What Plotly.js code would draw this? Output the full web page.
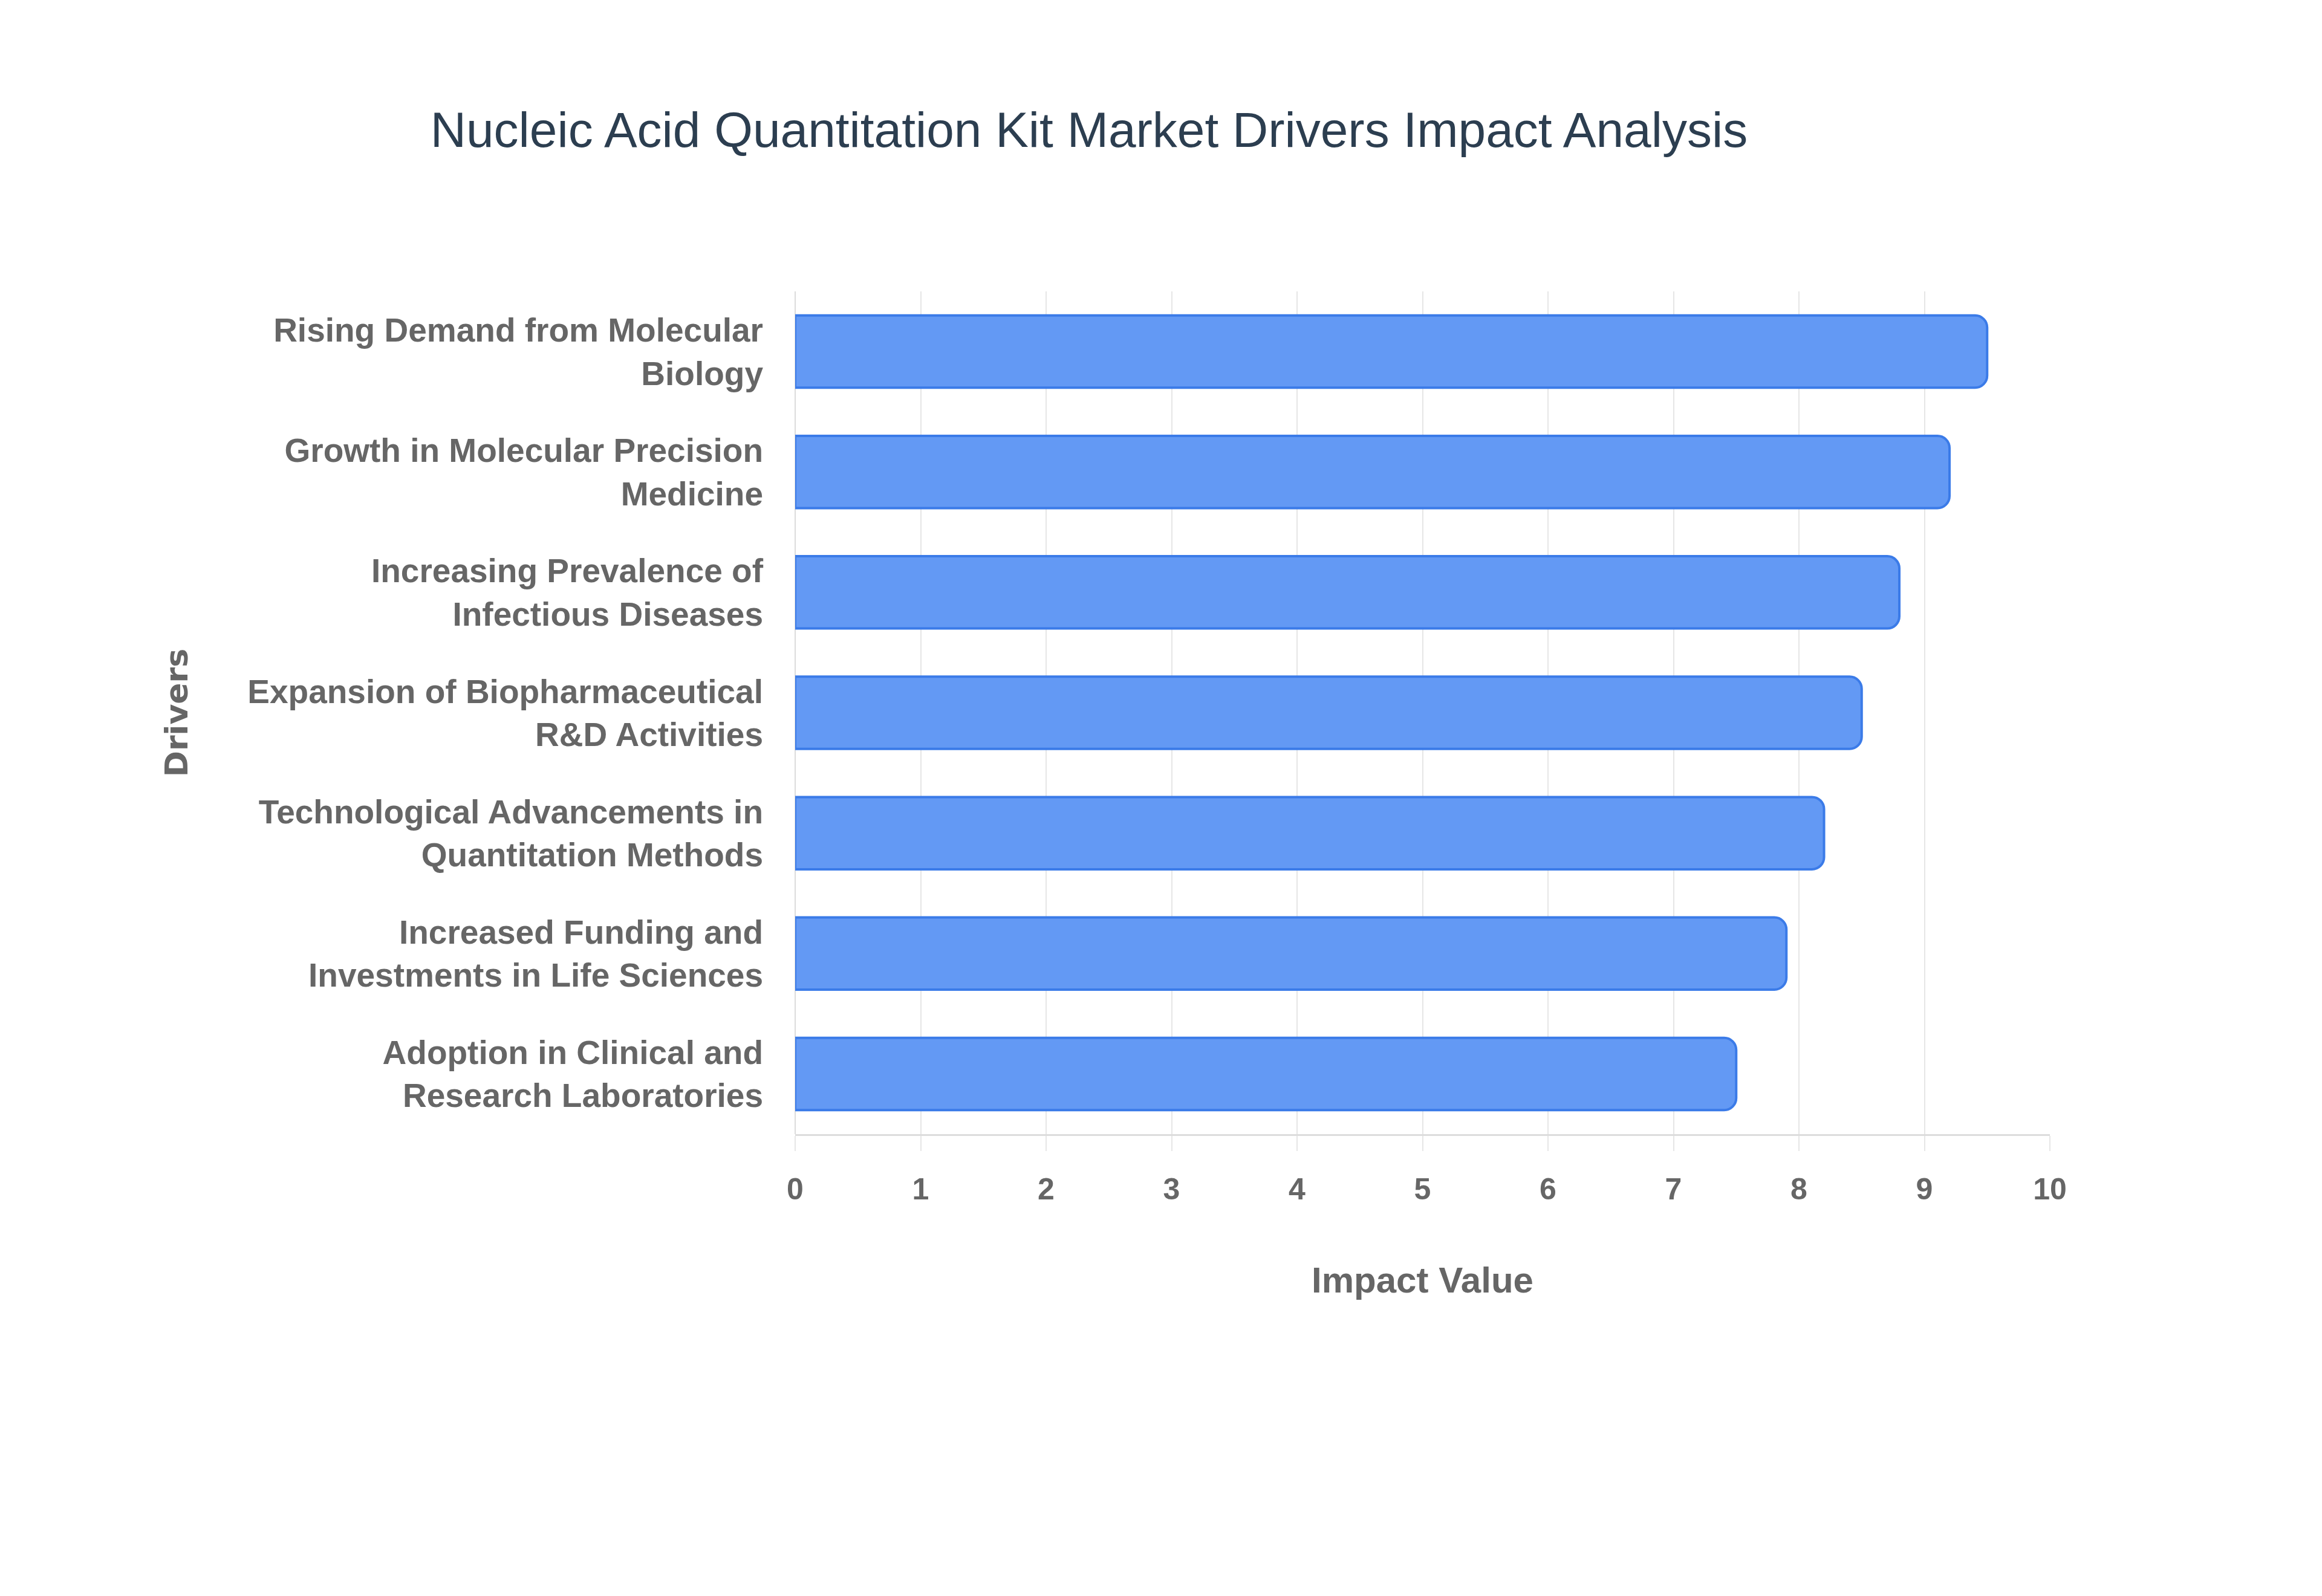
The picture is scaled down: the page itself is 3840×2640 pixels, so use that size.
<!DOCTYPE html>
<html>
<head>
<meta charset="utf-8">
<script src="https://cdn.plot.ly/plotly-3.0.1.min.js"></script>
<style>
  body { margin: 0; background: #fff; }
  #graph { width: 3840px; height: 2640px; }
</style>
</head>
<body>
<div id="graph"></div>
<script>
// drivers, top to bottom as drawn
const drivers = [
    "Rising Demand from Molecular<br>Biology",
    "Growth in Molecular Precision<br>Medicine",
    "Increasing Prevalence of<br>Infectious Diseases",
    "Expansion of Biopharmaceutical<br>R&D Activities",
    "Technological Advancements in<br>Quantitation Methods",
    "Increased Funding and<br>Investments in Life Sciences",
    "Adoption in Clinical and<br>Research Laboratories"
];
const impactValues = [9.5, 9.2, 8.8, 8.5, 8.2, 7.9, 7.5];
const xTicks = [0, 1, 2, 3, 4, 5, 6, 7, 8, 9, 10];

const labelGrey = "#666666";
const gridGrey = "#e6e6e6";

function initPlot() {
    const trace = {
        type: "bar",
        orientation: "h",
        y: drivers,
        x: impactValues,
        width: 0.6,
        marker: {
            color: "#6399f4",
            cornerradius: 20,
            line: { color: "#3b7be8", width: 4 }
        },
        hoverinfo: "x+y"
    };

    const layout = {
        width: 3840,
        height: 2640,
        paper_bgcolor: "#ffffff",
        plot_bgcolor: "#ffffff",
        showlegend: false,
        margin: { l: 1315, r: 450, t: 482, b: 764, autoexpand: false },
        title: {
            text: "Nucleic Acid Quantitation Kit Market Drivers Impact Analysis",
            font: { family: "Liberation Sans, Arial, sans-serif", size: 82, color: "#2c3e50" },
            x: 0.469,
            xanchor: "center",
            y: 0.919,
            yanchor: "middle"
        },
        xaxis: {
            range: [0, 10],
            tickvals: xTicks,
            ticktext: xTicks.map(String),
            showgrid: true,
            gridcolor: gridGrey,
            gridwidth: 2,
            zeroline: true,
            zerolinecolor: "#dcdcdc",
            zerolinewidth: 2,
            showline: true,
            linecolor: "#dcdcdc",
            linewidth: 3,
            ticks: "outside",
            ticklen: 25,
            tickwidth: 2,
            tickcolor: gridGrey,
            tickfont: { family: "Liberation Sans, Arial, sans-serif", size: 50, color: labelGrey, weight: "bold" },
            ticklabelstandoff: 20,
            title: {
                text: "Impact Value",
                font: { family: "Liberation Sans, Arial, sans-serif", size: 60, color: labelGrey, weight: "bold" },
                standoff: 102
            }
        },
        yaxis: {
            type: "category",
            autorange: "reversed",
            showgrid: false,
            zeroline: false,
            showline: false,
            ticks: "",
            ticklabelstandoff: 52,
            tickfont: { family: "Liberation Sans, Arial, sans-serif", size: 55, color: labelGrey, weight: "bold" },
            title: {
                text: "Drivers",
                font: { family: "DejaVu Sans, Verdana, sans-serif", size: 52, color: labelGrey, weight: "bold" },
                standoff: 82
            }
        },
        bargap: 0.4
    };

    const config = { displaylogo: false, displayModeBar: false, staticPlot: true };
    Plotly.newPlot("graph", [trace], layout, config);
}

initPlot();
</script>
</body>
</html>
